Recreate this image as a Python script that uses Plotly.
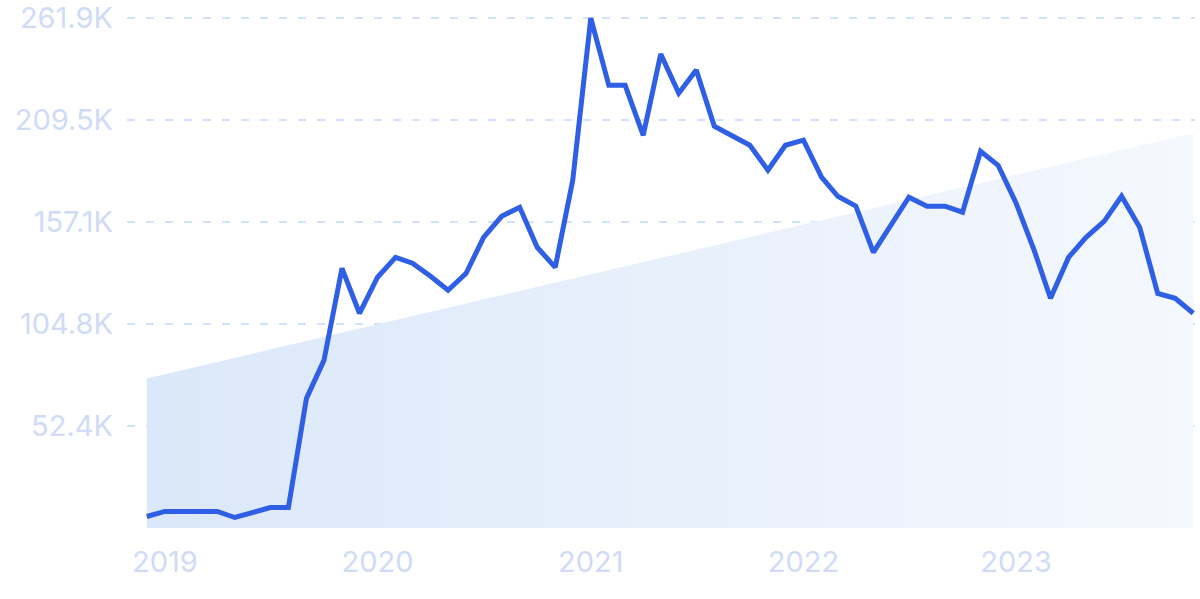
import pandas as pd
import plotly.graph_objects as go

# monthly search volume, Dec 2018 .. Nov 2023
months = pd.date_range("2018-12-01", periods=60, freq="MS")
volume = [
    5.9, 8.5, 8.5, 8.5, 8.5, 5.4, 8.0, 10.5, 10.5, 66.6,
    86.1, 133.4, 110.3, 128.8, 139.0, 136.0, 129.3, 122.1, 130.8, 149.3,
    160.1, 164.7, 144.2, 133.9, 178.6, 261.9, 227.4, 227.4, 201.7, 243.4,
    223.3, 235.2, 206.4, 201.7, 196.6, 183.8, 196.6, 199.2, 180.2, 170.4,
    165.3, 141.6, 155.5, 169.9, 165.3, 165.3, 162.2, 193.5, 186.3, 166.8,
    142.6, 118.0, 139.0, 149.3, 157.5, 170.4, 154.5, 120.5, 118.0, 110.3,
]
volume = [v * 1000 for v in volume]

# decorative trend band behind the line
trend_x = ["2018-12-01", "2023-11-01"]
trend_y = [76800, 202800]

y_ticks = [52380, 104760, 157140, 209520, 261900]
y_labels = ["52.4K", "104.8K", "157.1K", "209.5K", "261.9K"]
x_ticks = ["2019-01-01", "2020-01-01", "2021-01-01", "2022-01-01", "2023-01-01"]
x_labels = ["2019", "2020", "2021", "2022", "2023"]

LABEL = "#d0dbf6"
GRID = "#d3e2fc"

fig = go.Figure()
fig.add_trace(go.Scatter(
    x=trend_x, y=trend_y, mode="none", fill="tozeroy",
    fillgradient=dict(type="horizontal",
                      colorscale=[[0, "#dbe8f9"], [1, "#f5f8fe"]]),
    hoverinfo="skip",
))
fig.add_trace(go.Scatter(
    x=months, y=volume, mode="lines",
    line=dict(color="#2f5fe4", width=5),
))

fig.update_layout(
    width=1200, height=599,
    margin=dict(l=127, r=5, t=15, b=71),
    plot_bgcolor="white", paper_bgcolor="white",
    showlegend=False,
    font=dict(family="Inter", size=29, color=LABEL),
)
fig.update_xaxes(
    range=["2018-10-28", "2023-11-04"],
    tickvals=x_ticks, ticktext=x_labels,
    showgrid=False, zeroline=False, showline=False,
    ticklabelstandoff=14, automargin=False,
)
fig.update_yaxes(
    range=[0, 263500],
    tickvals=y_ticks, ticktext=y_labels,
    showgrid=True, gridcolor=GRID, gridwidth=2, griddash="8px,11px",
    zeroline=False, showline=False,
    ticklabelstandoff=13, automargin=False,
)

# drop the default page margin so the figure sits at the window corner
fig.write_html("out.html", post_script="document.body.style.margin='0';",
               config={"displayModeBar": False})
